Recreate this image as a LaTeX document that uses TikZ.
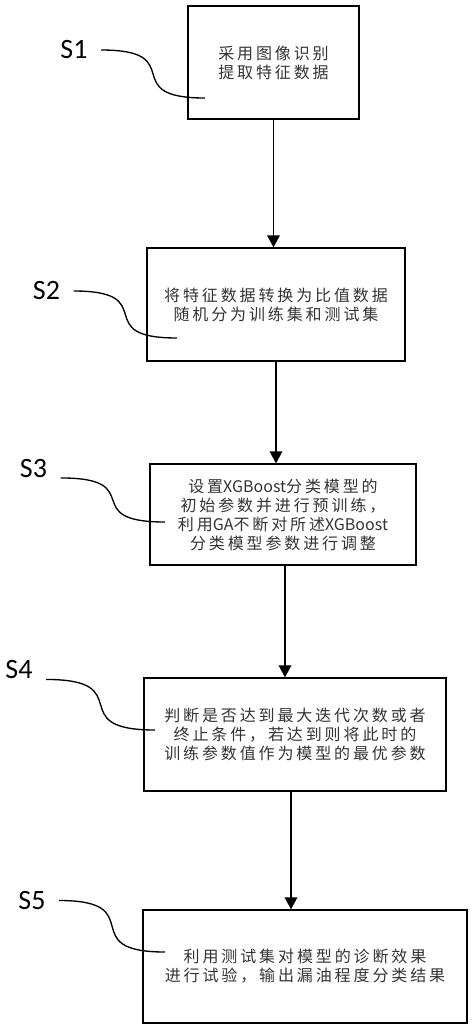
\documentclass[tikz,border=0pt]{standalone}
\usepackage{fontspec}
\setmainfont{Carlito}
\newfontfamily\cjk{Noto Sans CJK SC}[LetterSpace=18]
\newfontfamily\lat{Noto Sans CJK SC}
\usetikzlibrary{arrows.meta}

\begin{document}
\begin{tikzpicture}[x=0.75pt,y=-0.75pt,
    box/.style={draw,line width=1pt,inner sep=0pt,align=center,text=black!80,
        font=\cjk\fontsize{12}{14.25}\selectfont},
    steplabel/.style={inner xsep=10pt,inner ysep=0pt,font=\fontsize{21}{21}\selectfont},
    leader/.style={line width=1pt,out=0,in=180,looseness=2},
    flow/.style={line width=1pt,-{Triangle[width=9.5pt,length=9pt]}}]
    \useasboundingbox (0,0) rectangle (474,1029);
    % draw the boxes
    \node[box,minimum width=128.25pt,minimum height=84.75pt] (b1) at (273.5,62.5)
        {采用图像识别\\提取特征数据};
    \node[box,minimum width=193.5pt,minimum height=84.75pt] (b2) at (276,304.5)
        {将特征数据转换为比值数据\\随机分为训练集和测试集};
    \node[box,minimum width=199.5pt,minimum height=75.75pt] (b3) at (283,514.5)
        {设置{\lat XGBoost}分类模型的\\初始参数并进行预训练，\\利用{\lat GA}不断对所述{\lat XGBoost}\\分类模型参数进行调整};
    \node[box,minimum width=226.5pt,minimum height=84.75pt] (b4) at (295,734.5)
        {判断是否达到最大迭代次数或者\\终止条件，若达到则将此时的\\训练参数值作为模型的最优参数};
    \node[box,minimum width=243pt,minimum height=84.75pt] (b5) at (305,966.5)
        {利用测试集对模型的诊断效果\\进行试验，输出漏油程度分类结果};
    % draw the step labels
    \node[steplabel] (s1) at (74,50) {S1};
    \node[steplabel] (s2) at (46.5,291) {S2};
    \node[steplabel] (s3) at (33.5,468.5) {S3};
    \node[steplabel] (s4) at (19,670) {S4};
    \node[steplabel] (s5) at (32,900.5) {S5};
    % leader ends inside the boxes
    \coordinate (p1) at (205,98);
    \coordinate (p2) at (177,338);
    \coordinate (p3) at (165,522);
    \coordinate (p4) at (155,730);
    \coordinate (p5) at (165,952);
    % draw the arrows
    \draw[flow] (b1.south) -- (b1.south |- b2.north);
    \draw[flow] (b2.south) -- (b2.south |- b3.north);
    \draw[flow] ([xshift=1.5pt]b3.south) -- ([xshift=1.5pt]b3.south |- b4.north);
    \draw[flow] ([xshift=-3pt]b4.south) -- ([xshift=-3pt]b4.south |- b5.north);
    % draw the leaders
    \draw[leader] (s1.east) to (p1);
    \draw[leader] (s2.east) to (p2);
    \draw[leader] (s3.south east) to (p3);
    \draw[leader] (s4.south east) to (p4);
    \draw[leader] (s5.east) to (p5);
\end{tikzpicture}
\end{document}
